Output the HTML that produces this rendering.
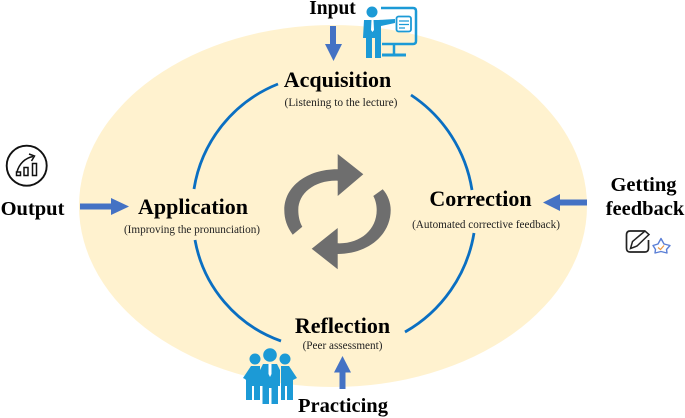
<!DOCTYPE html>
<html><head><meta charset="utf-8"><style>
html,body{margin:0;padding:0;background:#fff}
svg{display:block}
text{font-family:"Liberation Serif",serif;fill:#000;text-anchor:middle}
.b{font-weight:bold;font-size:22px}
.h{font-weight:bold;font-size:20.5px}
.s{font-size:11.2px;fill:#222}
</style></head><body>
<svg width="685" height="418" viewBox="0 0 685 418" xmlns="http://www.w3.org/2000/svg">
<ellipse cx="333" cy="206" rx="254" ry="181" fill="#fff2cf"/>
<g fill="none" stroke="#0a6fc2" stroke-width="2.800">
<path d="M278 84 A136 136 0 0 0 194 189"/>
<path d="M411 95 A140 140 0 0 1 472 190"/>
<path d="M474 233 A140 140 0 0 1 405 332"/>
<path d="M195 240 A132 132 0 0 0 281 341"/>
</g>
<g fill="#6e6e6e">
<path d="M337.7 154 L363.3 174.300 L337.7 196 V180.700 C315 180 298.300 193 298.300 210 C298.300 216 299.500 222 302.300 226.700 L292.700 234.700 C287 227 284.300 219 284.300 210 C284.300 186 308 169 337.700 169.300 Z"/>
<path d="M337.700 228 L311.700 248.700 L337.700 269.300 V254 C368 254 390.700 235 390.700 210 C390.700 203 388 195 382.700 189.300 L373.300 196 C375.500 200 376.700 205 376.700 210 C376.700 230 360 244 337.700 243.300 Z"/>
</g>
<g fill="#4472c4">
<path d="M330 26 H336 V44 H342 L333.500 61 L325 44 H330 Z"/>
<path d="M80 203.500 H111 V198 L129 206.500 L111 215 V209.500 H80 Z"/>
<path d="M587 199.500 H560 V194 L543 202.500 L560 211 V205.500 H587 Z"/>
<path d="M339.500 389 H345.500 V372.500 H351 L342.500 356 L334 372.500 H339.500 Z"/>
</g>
<text x="332.500" y="14" style="font-weight:bold;font-size:19.500px">Input</text>
<text class="b" x="337.500" y="87">Acquisition</text>
<text class="s" x="341" y="106" style="font-size:11.400px">(Listening to the lecture)</text>
<text class="b" x="193" y="214">Application</text>
<text class="s" x="192" y="233">(Improving the pronunciation)</text>
<text class="b" x="480.500" y="206">Correction</text>
<text class="s" x="486" y="228">(Automated corrective feedback)</text>
<text class="b" x="342.500" y="333">Reflection</text>
<text class="s" x="342.500" y="349">(Peer assessment)</text>
<text class="h" x="343" y="412">Practicing</text>
<text class="h" x="32.500" y="215">Output</text>
<text class="h" x="643.500" y="191">Getting</text>
<text class="h" x="645" y="215">feedback</text>
<!-- presenter icon -->
<g fill="#1c9ad6">
<circle cx="372" cy="12" r="5.500"/>
<path d="M364 20 H378 L395 19 V23 L381 26 V58 H375 V38 H372 V58 H366 V38 H363 Z"/>
</g>
<path d="M371.500 20 H373.500 L374 30 L372.500 32 L371 30 Z" fill="#fff"/>
<g fill="none" stroke="#1c9ad6" stroke-width="2.500">
<path d="M381 8 H413 Q416 8 416 11 V41 Q416 44 413 44 H382"/>
<rect x="396.500" y="16.500" width="14.500" height="15" rx="2" stroke-width="1.800"/>
<path d="M399 21 H409 M399 24.500 H409 M399 28 H405" stroke-width="1.300"/>
<path d="M394 44 V54"/>
<path d="M382 55 H406" stroke-width="3"/>
</g>
<!-- people icon -->
<g fill="#1c9ad6">
<circle cx="255" cy="359" r="5.500"/>
<circle cx="270" cy="355" r="6.800"/>
<circle cx="285" cy="359" r="5.500"/>
<path d="M243 378 L251 366 H260 V400 H254 V386 H252 V400 H246 V380 L245 379 Z"/>
<path d="M263 364 H277 L280 370 V386 H278 V404 H271.500 V388 H269 V404 H262.500 V386 H260 V370 Z"/>
<path d="M297 378 L289 366 H281 V400 H285 V386 H287 V400 H293 V380 L295 379 Z"/>
</g>
<path d="M268.500 364 H271.500 L271.500 374 L270 377 L268.500 374 Z" fill="#fff"/>
<!-- output icon -->
<g fill="none" stroke="#111" stroke-width="1.900">
<circle cx="26.700" cy="165.700" r="20"/>
<path d="M17 172 C19 164 25 158 33 156.500" stroke-width="1.500"/>
<path d="M29 154 L34.500 156 L31.500 161" stroke-width="1.500"/>
<rect x="16.500" y="172" width="4" height="3.500" stroke-width="1.500"/>
<rect x="24" y="167.500" width="4" height="8" stroke-width="1.500"/>
<rect x="32.500" y="163.500" width="4" height="12" stroke-width="1.500"/>
</g>
<!-- feedback icon -->
<g fill="none" stroke="#222" stroke-width="1.700">
<path d="M645 231 H630 Q626.500 231 626.500 235 V248 Q626.500 252 630 252 H645 Q648.500 252 648.500 248 V240"/>
</g>
<path d="M630.500 248.500 L632.500 241.500 L645 231 L649 234.500 L637 246 Z" fill="#fff" stroke="#222" stroke-width="1.500"/>
<path d="M661 238.500 L664 244 L670 245.500 L666.500 249.500 L667 253 L661 251.500 L655 253 L655.500 249.500 L653 245.500 L658 244 Z" fill="none" stroke="#5b7fd6" stroke-width="1.400" stroke-linejoin="round"/>
<path d="M658 247.500 L660.500 249.500 L664 245.500" fill="none" stroke="#ec9a45" stroke-width="1.200"/>
</svg>
</body></html>
